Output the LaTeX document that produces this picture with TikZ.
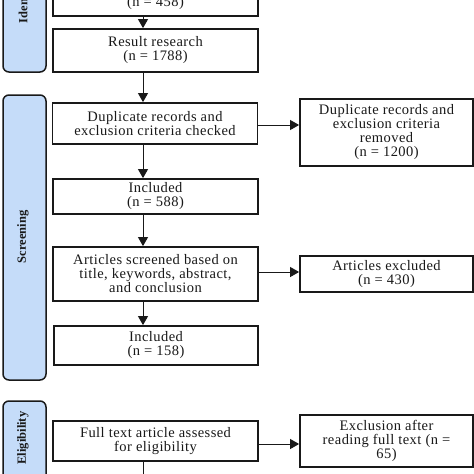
\documentclass[tikz,border=0pt]{standalone}
\usepackage{fontspec}
\setmainfont{Liberation Serif}
\newfontfamily\boxfont{Liberation Serif}[LetterSpace=3]
\usetikzlibrary{arrows.meta}
\definecolor{sideblue}{RGB}{197,220,249}
\definecolor{ink}{RGB}{25,25,25}
\begin{document}
\begin{tikzpicture}[x=1pt,y=-1pt,
  box/.style={draw=ink,line width=1.8pt,fill=white,align=center,inner sep=0pt,
    font=\boxfont\fontsize{14.5}{14}\selectfont,text=ink},
  boxtext/.style={align=center,inner sep=0pt,font=\boxfont\fontsize{14.5}{14}\selectfont,text=ink},
  side/.style={draw=ink,line width=1.5pt,fill=sideblue,rounded corners=6pt},
  sidetext/.style={rotate=90,font=\bfseries\fontsize{12.5}{14}\selectfont,text=ink},
  arr/.style={draw=ink,line width=0.9pt,-{Triangle[length=9pt,width=10pt]}},
  plain/.style={draw=ink,line width=0.9pt}]
\clip (0,0) rectangle (474,474);
\fill[white] (0,0) rectangle (474,474);
% side labels
\draw[side] (3,-60) rectangle (46,72);
\node[sidetext] (lid) at (23,-13) {Identification};
\draw[side] (3,95) rectangle (46,380);
\node[sidetext] (lsc) at (23,237) {Screening};
\draw[side] (3,401) rectangle (46,540);
\node[sidetext] (lel) at (23,438) {Eligibility};
% main boxes
\node[box,minimum width=205,minimum height=56] (top) at (155.5,-12) {};
\node[boxtext] (toptext) at (155.5,3.5) {(n = 458)};
\node[box,minimum width=205,minimum height=43] (res) at (155.5,50.5) {Result research\\(n = 1788)};
\node[box,minimum width=205,minimum height=41] (dup) at (155,123.5) {Duplicate records and\\exclusion criteria checked};
\node[box,minimum width=173,minimum height=67] (dupr) at (386.5,132.5) {Duplicate records and\\exclusion criteria\\removed\\(n = 1200)};
\node[box,minimum width=205,minimum height=35] (inc1) at (155.5,196.5) {Included\\(n = 588)};
\node[box,minimum width=205,minimum height=54] (scr) at (155.5,274) {Articles screened based on\\title, keywords, abstract,\\and conclusion};
\node[box,minimum width=173,minimum height=36] (exc) at (386.5,274) {Articles excluded\\(n = 430)};
\node[box,minimum width=204,minimum height=39] (inc2) at (156,345.5) {Included\\(n = 158)};
\node[box,minimum width=205,minimum height=40] (full) at (155.5,441) {Full text article assessed\\for eligibility};
\node[box,minimum width=173,minimum height=52] (excf) at (386.5,441) {Exclusion after\\reading full text (n =\\65)};
\coordinate (tail) at (143,490);
% connectors
\draw[arr] ([xshift=-12.5pt]top.south) -- ([xshift=-12.5pt]res.north);
\draw[arr] ([xshift=-12.5pt]res.south) -- ([xshift=-12pt]dup.north);
\draw[arr] ([xshift=-12pt]dup.south) -- ([xshift=-12.5pt]inc1.north);
\draw[arr] ([xshift=-12.5pt]inc1.south) -- ([xshift=-12.5pt]scr.north);
\draw[arr] ([xshift=-12.5pt]scr.south) -- ([xshift=-13pt]inc2.north);
\draw[plain] ([xshift=-12.5pt]full.south) -- (tail);
\draw[arr] ([yshift=-1.5pt]dup.east) -- ([yshift=-1.5pt]dup.east -| dupr.west);
\draw[arr] ([yshift=2pt]scr.east) -- ([yshift=2pt]scr.east -| exc.west);
\draw[arr] ([yshift=-3pt]full.east) -- ([yshift=-3pt]full.east -| excf.west);
\end{tikzpicture}
\end{document}
